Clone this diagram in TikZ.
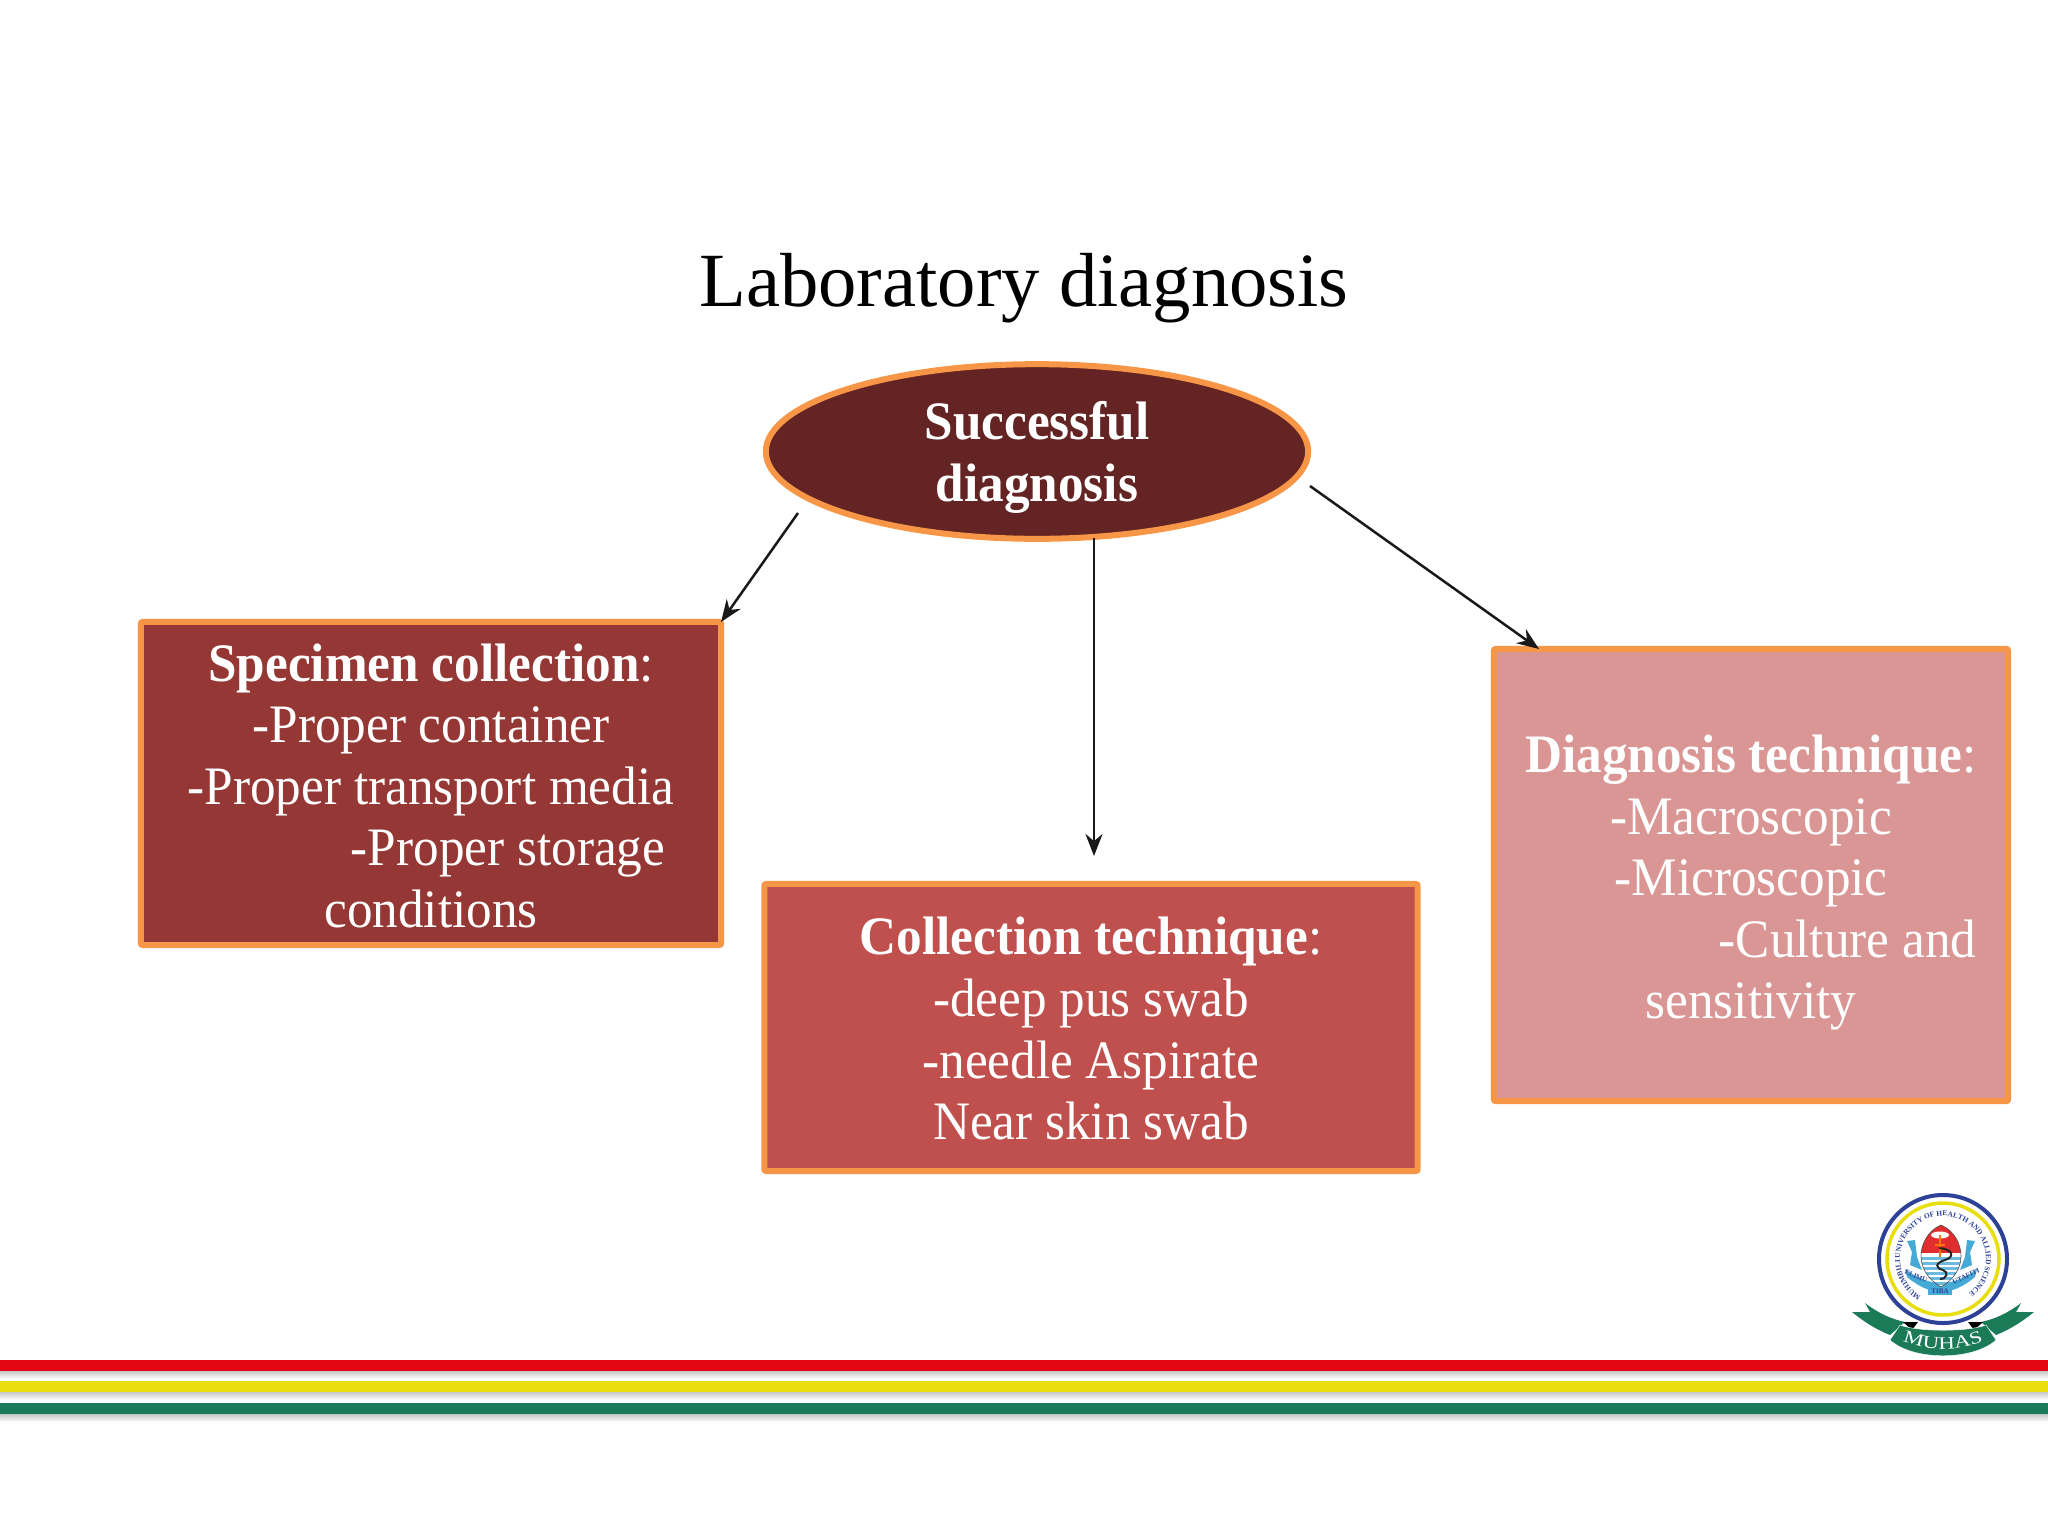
\documentclass[tikz,border=0pt]{standalone}
\usepackage{fontspec}
\setmainfont{Liberation Serif}
\newfontfamily\slimfont[FakeStretch=0.946]{Liberation Serif}
\newfontfamily\ribbonfont[FakeStretch=1.3]{Liberation Serif}
\usetikzlibrary{shapes.geometric,arrows.meta,positioning,decorations.text}

\definecolor{edgeorange}{RGB}{247,150,70}
\definecolor{ovalbrown}{RGB}{99,36,35}
\definecolor{boxdark}{RGB}{149,55,52}
\definecolor{boxmid}{RGB}{192,80,77}
\definecolor{boxlight}{RGB}{217,150,148}
\definecolor{barred}{RGB}{227,6,19}
\definecolor{baryellow}{RGB}{232,222,14}
\definecolor{bargreen}{RGB}{27,122,88}
\definecolor{sealblue}{RGB}{45,65,150}
\definecolor{sealsky}{RGB}{70,170,215}
\definecolor{sealred}{RGB}{225,45,45}

\newcommand{\lift}[1]{\rule{0pt}{#1}}

\tikzset{
  slimtext/.style={text=white, align=center, inner sep=0pt, font=\fontsize{15.4}{17.5}\selectfont\slimfont},
  box/.style={slimtext, draw=edgeorange, line width=0.06cm, rounded corners=0.02cm},
  link/.style={draw=black!90, line width=0.025cm, -{Stealth[length=0.22cm,width=0.17cm]}},
  ribbon/.style={fill=bargreen, draw=white, line width=0.004cm},
  bannertext/.style={font=\fontsize{2}{3}\selectfont\bfseries, text=sealblue, inner sep=0pt}
}

\begin{document}
\begin{tikzpicture}[x=0.01cm,y=-0.01cm]
\useasboundingbox (0,0) rectangle (2048,1536);
% title
\node[font=\fontsize{21.8}{26}\selectfont] (title) at (1024,288) {Laboratory diagnosis};
% oval
\node[slimtext, draw=edgeorange, fill=ovalbrown, ellipse, line width=0.06cm, minimum width=5.42cm, minimum height=1.71cm,
  font=\fontsize{15.4}{17.5}\selectfont\slimfont\bfseries] (oval) at (1037,451.5) {\lift{0.5cm}Successful\\diagnosis};

% three boxes
\node[box, fill=boxdark, minimum width=5.8cm, minimum height=3.23cm] (spec) at (431,783.5)
  {\lift{0.42cm}\textbf{Specimen collection}:\\-Proper container\\-Proper transport media\\
   \hspace*{1.54cm}-Proper storage\\conditions};
\node[box, fill=boxmid, minimum width=6.53cm, minimum height=2.87cm] (coll) at (1091,1027.5)
  {\lift{0.4cm}\textbf{Collection technique}:\\-deep pus swab\\-needle Aspirate\\Near skin swab};
\node[box, fill=boxlight, minimum width=5.14cm, minimum height=4.52cm] (diag) at (1751,875)
  {\lift{0.53cm}\textbf{Diagnosis technique}:\\-Macroscopic\\-Microscopic\\
   \hspace*{1.93cm}-Culture and\\sensitivity};

% free ends of the arrows
\coordinate (a1) at (798,513);
\coordinate (a2) at (721,622);
\coordinate (b1) at (1094,538);
\coordinate (b2) at (1094,856);
\coordinate (c1) at (1310,486);
\coordinate (c2) at (1539,649);
\draw[link] (a1) -- (a2);
\draw[link] (b1) -- (b2);
\draw[link] (c1) -- (c2);

% stripes at the bottom, each with its soft shadow
\foreach \barcol/\bary in {barred/1360,baryellow/1381,bargreen/1403} {
  \shade[top color=black!22, bottom color=white] (0,\bary+11) rectangle (2048,\bary+19);
  \fill[\barcol] (0,\bary) rectangle (2048,\bary+11);
}

% seal
\coordinate (seal) at (1943,1259);
\begin{scope}[shift={(seal)},x=0.01cm,y=0.01cm]
% rings
\draw[sealblue, line width=0.04cm] (0,0) circle (64);
\draw[baryellow, line width=0.035cm] (0,0) circle (56);
\path[decorate, decoration={text along path, text align=center,
  text={|\fontsize{2.1}{3}\selectfont\bfseries\color{sealblue}|MUHIMBILI UNIVERSITY OF HEALTH AND ALLIED SCIENCES}}]
  (232:43) arc[start angle=232, end angle=-52, radius=43];
% side pieces
\foreach \sgn in {-1,1} {
  \begin{scope}[xshift=-0.02cm,xscale=\sgn]
  \fill[sealsky] (-34,18) -- (-26,19) -- (-24,2) -- (-19,-11) -- (-31,-6) -- (-29,7) -- cycle;
  \end{scope}
}
% banner under the shield
\fill[sealsky] (-38,-10) .. controls (-25,-20) and (-12,-24) .. (-2,-24) .. controls (8,-24) and (21,-20) .. (34,-10)
  -- (32,-18) .. controls (20,-28) and (8,-33) .. (-2,-33) .. controls (-12,-33) and (-24,-28) .. (-36,-18) -- cycle;
\fill[sealsky] (-15,-26) rectangle (9,-36);
\node[bannertext, rotate=-25] (elimu) at (-27,-17) {ELIMU};
\node[bannertext, rotate=25] (utafiti) at (23,-17) {UTAFITI};
\node[bannertext] (tiba) at (-3,-32) {TIBA};
% shield
\begin{scope}
\clip (-2,34) .. controls (12,28) and (18,14) .. (18,3) .. controls (18,-10) and (10,-21) .. (-2,-28)
  .. controls (-14,-21) and (-22,-10) .. (-22,3) .. controls (-22,14) and (-16,28) .. (-2,34) -- cycle;
\fill[white] (-24,36) rectangle (20,-30);
\fill[sealred] (-24,36) rectangle (20,6);
\foreach \stripe in {2,-3,...,-28} {
  \fill[sealsky!80] (-24,\stripe) rectangle (20,\stripe-2.5);
}
\end{scope}
\draw[black!70, line width=0.006cm] (-2,34) .. controls (12,28) and (18,14) .. (18,3) .. controls (18,-10) and (10,-21) .. (-2,-28)
  .. controls (-14,-21) and (-22,-10) .. (-22,3) .. controls (-22,14) and (-16,28) .. (-2,34) -- cycle;
% staff, cloud and snake
\fill[white] (-3,24) ellipse (9 and 3.5);
\draw[orange!90!red, line width=0.014cm] (-3,24) -- (-3,2);
\draw[orange!90!red, line width=0.014cm] (-8,14) -- (2,14);
\draw[black!85, line width=0.02cm] (-4,11) .. controls (10,10) and (12,2) .. (2,-1) .. controls (-8,-4) and (-8,-9) .. (0,-11) .. controls (6,-13) and (4,-20) .. (-3,-20);
% ribbon tails
\foreach \sgn in {-1,1} {
  \begin{scope}[xscale=\sgn]
  \fill[bargreen] (-78,-44) .. controls (-65,-54) and (-52,-60) .. (-38,-63) -- (-53,-76)
    .. controls (-68,-70) and (-80,-62) .. (-91,-53) -- (-73,-53) -- cycle;
  \fill[black] (-40,-63) -- (-25,-63) -- (-31,-71) -- cycle;
  \end{scope}
}
% ribbon middle
\path[ribbon] (-43,-66) .. controls (-25,-73) and (25,-73) .. (43,-66) -- (53,-81)
  .. controls (30,-102) and (-30,-102) .. (-53,-81) -- cycle;
\path[decorate, decoration={text along path, text align=center,
  text={|\fontsize{5}{6}\selectfont\ribbonfont\color{white}|MUHAS}}]
  (-50,-78) .. controls (-20,-94) and (20,-94) .. (50,-78);
\end{scope}
\end{tikzpicture}
\end{document}
